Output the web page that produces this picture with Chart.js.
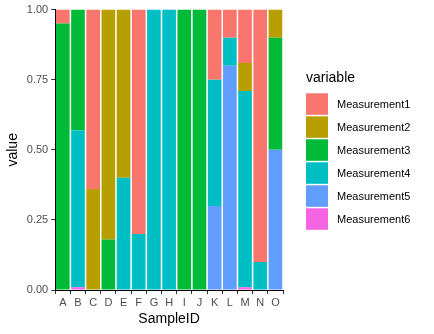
<!DOCTYPE html>
<html>
<head>
<meta charset="utf-8">
<script src="https://cdn.jsdelivr.net/npm/chart.js@4"></script>
<style>
  html, body { margin: 0; padding: 0; background: #fff; }
  .canvas-container { width: 434px; height: 334px; }
</style>
</head>
<body>
<div class="canvas-container"><canvas id="myChart"></canvas></div>
<script>
"use strict";
const sampleIds = ['A','B','C','D','E','F','G','H','I','J','K','L','M','N','O'];
const measurement1 = [0.05, 0,    0.64, 0,    0,    0.80, 0, 0, 0, 0, 0.25, 0.10, 0.19, 0.90, 0];
const measurement2 = [0,    0,    0.36, 0.82, 0.60, 0,    0, 0, 0, 0, 0,    0,    0.10, 0,    0.10];
const measurement3 = [0.95, 0.43, 0,    0.18, 0,    0,    0, 0, 1, 1, 0,    0,    0,    0,    0.40];
const measurement4 = [0,    0.56, 0,    0,    0.40, 0.20, 1, 1, 0, 0, 0.45, 0.10, 0.70, 0.10, 0];
const measurement5 = [0,    0,    0,    0,    0,    0,    0, 0, 0, 0, 0.30, 0.80, 0,    0,    0.50];
const measurement6 = [0,    0.01, 0,    0,    0,    0,    0, 0, 0, 0, 0,    0,    0.01, 0,    0];
const yTicks = [0, 0.25, 0.5, 0.75, 1];

const seriesNames = ['Measurement1','Measurement2','Measurement3','Measurement4','Measurement5','Measurement6'];
const seriesData = [measurement1, measurement2, measurement3, measurement4, measurement5, measurement6];
const seriesColors = ['#F8766D','#B79F00','#00BA38','#00BFC4','#619CFF','#F564E3'];

// ggplot stacks the last level at the bottom, so build datasets reversed
const datasets = [];
for (let i = seriesNames.length - 1; i >= 0; i--) {
    datasets.push({
        label: seriesNames[i],
        data: seriesData[i],
        backgroundColor: seriesColors[i],
        borderWidth: 0,
        categoryPercentage: 1.0,
        barPercentage: 0.9
    });
}

const FONT = '"Liberation Sans", Arial, sans-serif';
Chart.defaults.font.family = FONT;
Chart.defaults.animation = false;

// ggplot-like legend: title + keys, drawn right of the plot
const sideLegend = {
    id: 'sideLegend',
    afterDraw(chart) {
        const c = chart.ctx;
        const area = chart.chartArea;
        const x = area.right + 23;
        const pitch = 23;
        const items = chart.data.datasets.slice().reverse();
        const top = (area.top + area.bottom) / 2 - 57;
        c.save();
        c.textBaseline = 'middle';
        c.textAlign = 'left';
        c.fillStyle = '#000000';
        c.font = '14px ' + FONT;
        c.fillText('variable', x, top - 15);
        c.font = '11px ' + FONT;
        items.forEach((ds, i) => {
            const y = top + i * pitch;
            c.fillStyle = ds.backgroundColor;
            c.fillRect(x, y + 0.5, 22, 21.5);
            c.fillStyle = '#000000';
            c.fillText(ds.label, x + 31, y + 12);
        });
        c.restore();
    }
};

const ctx = document.getElementById('myChart');
new Chart(ctx, {
    type: 'bar',
    data: { labels: sampleIds, datasets: datasets },
    options: {
        responsive: true,
        maintainAspectRatio: false,
        layout: { padding: { top: 5, left: 5, right: 151, bottom: 6 } },
        scales: {
            x: {
                stacked: true,
                grid: { display: true, drawOnChartArea: false, tickLength: 4, tickColor: '#333333' },
                border: { display: true, color: '#000000', width: 1 },
                ticks: { color: '#4D4D4D', font: { size: 11 }, padding: 2 },
                title: { display: true, text: 'SampleID', color: '#000000', font: { size: 14 }, padding: { top: 0, bottom: 0 } }
            },
            y: {
                stacked: true,
                min: 0,
                max: 1,
                afterBuildTicks: axis => { axis.ticks = yTicks.map(v => ({ value: v })); },
                grid: { display: true, drawOnChartArea: false, tickLength: 4, tickColor: '#333333' },
                border: { display: true, color: '#000000', width: 1 },
                ticks: { color: '#4D4D4D', font: { size: 11 }, padding: 3, callback: v => Number(v).toFixed(2) },
                title: { display: true, text: 'value', color: '#000000', font: { size: 14 }, padding: { top: 0, bottom: 2 } }
            }
        },
        plugins: {
            legend: { display: false },
            tooltip: { enabled: false }
        }
    },
    plugins: [sideLegend]
});
</script>
</body>
</html>
